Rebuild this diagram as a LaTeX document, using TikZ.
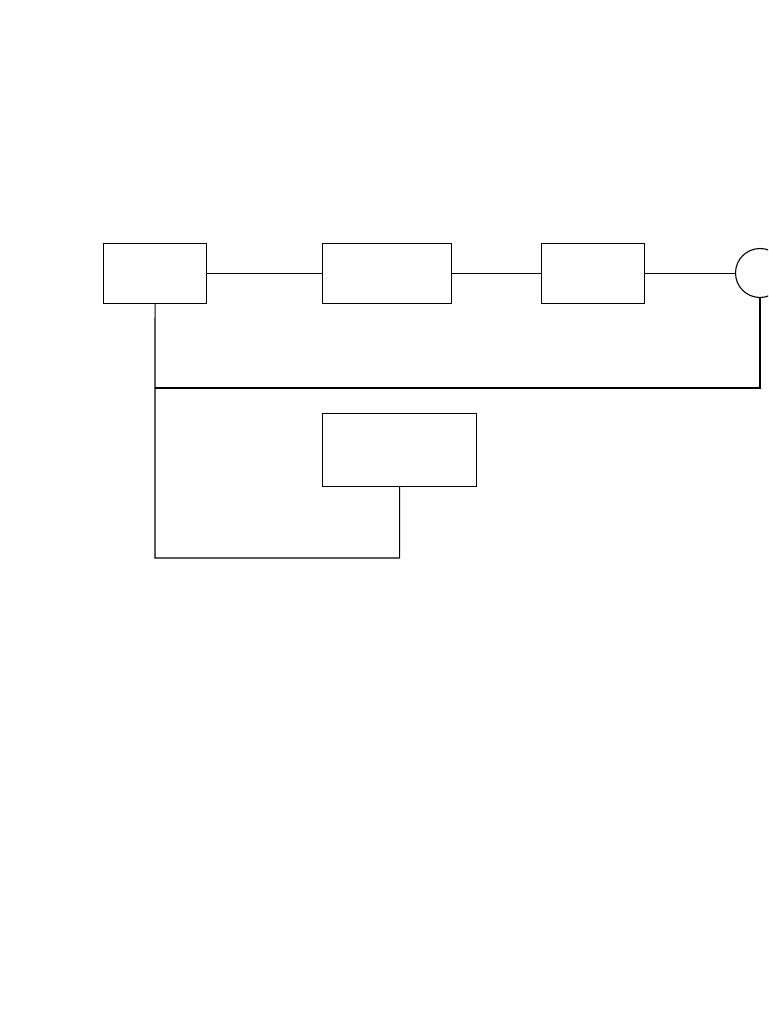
\documentclass[tikz,border=0pt]{standalone}
\begin{document}
\begin{tikzpicture}[x=1pt,y=-1pt,
  blk/.style={draw,line width=1.1pt,minimum height=60pt,inner sep=0pt,anchor=north west},
  wire/.style={line width=1.1pt}]
\useasboundingbox (0,0) rectangle (768,1024);
\clip (0,0) rectangle (768,1024);
\fill[white] (0,0) rectangle (768,1024);
\node[blk,minimum width=103pt] (a) at (103,243) {};
\node[blk,minimum width=129pt] (b) at (322,243) {};
\node[blk,minimum width=103pt] (c) at (541,243) {};
\node[draw,circle,line width=1.1pt,minimum size=49pt,inner sep=0pt] (s) at (760,273) {};
\node[blk,minimum width=154pt,minimum height=73pt] (d) at (322,413) {};
\coordinate (j) at (155,388);
\coordinate (bl) at (155,558);
\draw[wire] (a.east) -- (b.west);
\draw[wire] (b.east) -- (c.west);
\draw[wire] (c.east) -- (c.east -| s.west);
\draw[wire] (s.south) |- (j);
\draw[wire] (a.south) -- (bl) -| (d.south);
\end{tikzpicture}
\end{document}
